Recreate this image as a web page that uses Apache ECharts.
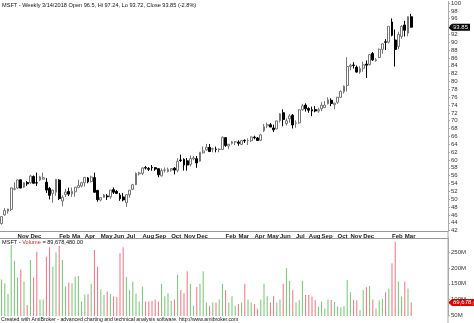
<!DOCTYPE html>
<html><head><meta charset="utf-8">
<script src="https://cdn.jsdelivr.net/npm/echarts@6/dist/echarts.min.js"></script>
<style>html,body{margin:0;padding:0;background:#fff}#c{width:474px;height:323px}</style>
</head><body><div id="c"></div><script>
// Weekly bars (Monday of each week)
const weeks = ['2015-09-28','2015-10-05','2015-10-12','2015-10-19','2015-10-26','2015-11-02','2015-11-09','2015-11-16','2015-11-23','2015-11-30','2015-12-07','2015-12-14','2015-12-21','2015-12-28',
'2016-01-04','2016-01-11','2016-01-18','2016-01-25','2016-02-01','2016-02-08','2016-02-15','2016-02-22','2016-02-29','2016-03-07','2016-03-14','2016-03-21','2016-03-28','2016-04-04','2016-04-11','2016-04-18','2016-04-25','2016-05-02','2016-05-09','2016-05-16','2016-05-23','2016-05-30','2016-06-06','2016-06-13','2016-06-20','2016-06-27','2016-07-04','2016-07-11','2016-07-18','2016-07-25','2016-08-01','2016-08-08','2016-08-15','2016-08-22','2016-08-29','2016-09-05','2016-09-12','2016-09-19','2016-09-26','2016-10-03','2016-10-10','2016-10-17','2016-10-24','2016-10-31','2016-11-07','2016-11-14','2016-11-21','2016-11-28','2016-12-05','2016-12-12','2016-12-19','2016-12-26',
'2017-01-02','2017-01-09','2017-01-16','2017-01-23','2017-01-30','2017-02-06','2017-02-13','2017-02-20','2017-02-27','2017-03-06','2017-03-13','2017-03-20','2017-03-27','2017-04-03','2017-04-10','2017-04-17','2017-04-24','2017-05-01','2017-05-08','2017-05-15','2017-05-22','2017-05-29','2017-06-05','2017-06-12','2017-06-19','2017-06-26','2017-07-03','2017-07-10','2017-07-17','2017-07-24','2017-07-31','2017-08-07','2017-08-14','2017-08-21','2017-08-28','2017-09-04','2017-09-11','2017-09-18','2017-09-25','2017-10-02','2017-10-09','2017-10-16','2017-10-23','2017-10-30','2017-11-06','2017-11-13','2017-11-20','2017-11-27','2017-12-04','2017-12-11','2017-12-18','2017-12-25',
'2018-01-01','2018-01-08','2018-01-15','2018-01-22','2018-01-29','2018-02-05','2018-02-12','2018-02-19','2018-02-26','2018-03-05','2018-03-12'];

const opens = [43.81,46.00,46.96,47.42,52.55,52.85,54.94,53.08,54.25,54.19,55.79,54.19,54.88,55.11,
54.32,52.76,51.48,51.79,54.88,49.55,51.17,51.97,51.35,51.89,53.00,53.36,54.19,55.43,54.49,55.49,52.26,49.79,50.49,50.80,50.60,52.44,52.00,51.05,50.58,49.10,51.13,52.50,53.71,56.47,56.60,58.06,57.84,58.10,58.02,57.78,55.95,57.42,57.08,57.41,57.91,57.36,60.00,60.16,59.78,58.85,60.30,60.34,59.70,61.82,62.56,63.21,
62.79,62.76,62.68,62.70,65.69,63.55,64.24,64.61,64.54,63.97,65.01,64.92,64.89,65.81,65.61,65.04,67.48,68.68,68.97,68.14,67.89,70.00,72.04,69.25,70.50,71.40,69.33,69.46,72.80,73.99,73.10,72.80,72.84,72.47,73.06,73.34,74.33,75.21,74.09,74.71,75.97,77.42,78.99,83.76,84.20,83.66,82.40,83.36,84.42,84.29,87.12,85.31,
86.13,88.20,90.10,90.00,95.14,90.56,88.93,91.48,94.40,92.34,96.50];
const highs = [45.63,47.75,47.55,52.95,54.32,54.98,54.95,54.33,54.60,56.23,56.07,56.79,55.96,56.78,
55.39,53.10,52.44,55.09,55.09,51.00,52.64,52.95,52.97,53.07,54.97,54.44,55.64,55.66,55.98,56.77,52.35,50.47,51.34,51.30,52.32,53.00,52.35,51.59,51.60,51.27,52.37,53.92,56.85,56.99,58.12,58.50,58.18,58.70,58.19,57.80,57.85,58.10,58.06,57.79,58.18,60.45,61.37,60.42,60.52,61.14,60.98,61.02,62.00,63.45,64.10,64.07,
63.15,63.40,62.98,66.00,65.79,64.08,64.86,64.80,64.99,65.14,65.24,65.50,65.98,66.19,65.86,66.70,69.14,69.55,69.38,69.00,70.00,71.95,72.89,70.58,71.68,71.71,70.10,72.94,74.30,74.42,73.44,73.59,73.72,73.35,74.74,75.00,75.97,75.71,74.54,76.03,77.71,78.97,86.20,84.54,84.90,84.10,83.88,85.06,85.37,87.00,87.50,85.98,
88.41,89.78,90.79,94.06,96.07,93.24,92.65,94.35,95.45,96.54,97.24];
const lows = [43.50,45.80,46.34,47.00,52.25,52.63,52.80,52.85,53.40,53.90,54.00,53.39,54.60,54.99,
51.60,49.95,49.10,50.84,49.80,48.19,50.56,50.81,50.58,50.64,52.80,53.01,53.21,54.07,54.26,51.68,49.35,49.45,50.38,49.82,50.10,51.34,51.36,49.60,49.46,48.04,50.39,52.32,53.58,56.04,56.14,57.56,57.17,57.25,57.23,55.61,55.80,56.77,56.80,57.04,56.32,56.87,59.51,57.28,57.28,58.33,59.91,58.02,59.56,61.60,62.31,62.03,
61.95,61.95,61.95,62.57,63.33,62.75,63.95,63.80,63.62,63.81,64.35,63.81,64.57,65.28,64.85,64.80,67.10,68.13,68.38,67.14,67.83,69.55,68.59,68.79,69.50,68.02,68.20,69.21,72.55,72.32,72.04,71.17,72.15,72.00,72.46,73.25,74.17,73.71,72.92,74.28,75.77,76.94,77.45,82.86,83.31,82.24,81.95,82.50,80.90,84.09,85.26,85.02,
85.97,87.08,88.01,89.68,91.50,83.83,88.22,90.86,91.47,91.52,93.72];
const closes = [45.57,47.11,47.51,52.87,52.64,54.92,52.84,54.19,53.93,55.91,54.06,54.13,55.67,55.48,
52.33,50.99,52.29,55.09,50.16,50.50,51.82,51.30,52.03,53.07,53.49,54.21,55.57,54.42,55.65,51.78,49.87,50.39,51.08,50.62,52.32,51.79,51.48,50.13,49.83,51.16,52.30,53.70,56.57,56.68,57.96,57.94,57.62,58.03,57.67,56.21,57.25,57.43,57.60,57.80,57.42,59.66,59.87,58.71,58.71,60.35,60.53,59.25,61.97,62.30,63.24,62.14,
62.84,62.70,62.74,65.78,63.68,64.00,64.62,64.62,64.25,64.93,64.87,64.98,65.86,65.68,64.95,66.40,68.46,69.00,68.38,67.69,69.96,71.76,70.32,70.00,71.21,68.93,69.46,72.78,73.79,73.04,72.68,72.50,72.49,72.82,73.94,73.98,75.31,74.41,74.49,76.00,77.49,78.81,83.81,84.14,84.09,82.40,83.26,84.26,84.16,86.85,85.51,85.54,
88.19,89.60,90.00,94.06,91.78,88.18,92.00,94.06,93.05,96.54,93.85];
// weekly volume, millions of shares
const volumes = [164,152,117,274,224,170,196,157,82,226,171,253,100,100,
237,267,205,250,271,226,141,154,152,173,175,93,116,117,150,258,205,132,114,125,117,109,108,248,267,173,130,157,119,93,141,93,93,95,100,93,150,110,120,95,100,180,130,120,190,150,80,140,150,190,90,80,
90,90,100,150,130,90,110,80,85,90,150,100,90,85,70,100,150,110,90,110,90,100,150,200,160,130,90,98,160,114,114,109,98,77,93,71,100,98,92,77,74,79,162,123,98,97,66,130,139,143,100,71,
97,102,123,135,216,285,157,109,157,135,89.67848];

// Month tick labels (week where the month starts) and their texts
const tickWeeks = ['2015-11-02','2015-11-30','2016-02-01','2016-02-29','2016-03-28','2016-05-02','2016-05-30','2016-06-27','2016-08-01','2016-08-29','2016-10-03','2016-10-31','2016-11-28',
'2017-01-30','2017-02-27','2017-04-03','2017-05-01','2017-05-29','2017-07-03','2017-07-31','2017-08-28','2017-10-02','2017-10-30','2017-11-27','2018-01-29','2018-02-26'];
const tickTexts = ['Nov','Dec','Feb','Ma','Apr','May','Jun','Jul','Aug','Sep','Oct','Nov','Dec',
'Feb','Mar','Apr','May','Jun','Jul','Aug','Sep','Oct','Nov','Dec','Feb','Mar'];
const priceTicks = [42,44,46,48,50,52,54,56,58,60,62,64,66,68,70,72,74,76,78,80,82,84,86,88,90,92,94,96,98,100];
const volumeTicks = [50,100,150,200,250];

const titleText = 'MSFT - Weekly 3/14/2018 Open 96.5, Hi 97.24, Lo 93.72, Close 93.85 (-2.8%)';
const footerText = 'Created with AmiBroker - advanced charting and technical analysis software. http://www.amibroker.com';

const FONT = '"Liberation Sans", Arial, sans-serif';
const GREEN = '#74c474', RED = '#ef7083';
const last = closes.length - 1;

const chart = echarts.init(document.getElementById('c'), null, {renderer: 'canvas'});
const tickMap = {};
tickWeeks.forEach((w, i) => tickMap[w] = tickTexts[i]);

const candleData = weeks.map((w, i) => [opens[i], closes[i], lows[i], highs[i]]);
const volData = volumes.map((v, i) => ({value: v, itemStyle: {color: closes[i] >= opens[i] ? GREEN : RED}}));

chart.setOption({
  animation: false,
  backgroundColor: '#fff',
  grid: [
    {left: 0, right: 26, top: 0, height: 231},
    {left: 0, right: 26, top: 238, height: 78}
  ],
  xAxis: [
    {type: 'category', gridIndex: 0, data: weeks, max: 139, boundaryGap: true,
     axisLine: {show: true, lineStyle: {color: '#999', width: 1}},
     axisTick: {show: false}, splitLine: {show: false},
     axisLabel: {show: true, fontSize: 6, fontWeight: 'bold', color: '#222', fontFamily: FONT, margin: 2,
       align: 'left', interval: (idx, val) => tickMap[val] !== undefined,
       formatter: (val) => tickMap[val] || ''}},
    {type: 'category', gridIndex: 1, data: weeks, max: 139, boundaryGap: true, position: 'top',
     axisLine: {show: true, lineStyle: {color: '#999', width: 1}},
     axisTick: {show: false}, axisLabel: {show: false}, splitLine: {show: false}}
  ],
  yAxis: [
    {type: 'value', gridIndex: 0, position: 'right', min: 41.9, max: 100.4, scale: true,
     axisLine: {show: true, lineStyle: {color: '#aaa'}},
     axisTick: {show: true, length: 2, customValues: priceTicks, lineStyle: {color: '#aaa'}},
     splitLine: {show: false},
     axisLabel: {customValues: priceTicks, fontSize: 6, color: '#333', fontFamily: FONT, margin: 3}},
    {type: 'value', gridIndex: 1, position: 'right', min: 46.8, max: 296.8,
     axisLine: {show: true, lineStyle: {color: '#aaa'}},
     axisTick: {show: true, length: 2, customValues: volumeTicks, lineStyle: {color: '#aaa'}},
     splitLine: {show: false},
     axisLabel: {customValues: volumeTicks, fontSize: 6, color: '#333', fontFamily: FONT, margin: 3,
       formatter: v => v + 'M'}}
  ],
  series: [
    {type: 'candlestick', xAxisIndex: 0, yAxisIndex: 0, data: candleData, barWidth: 2.2,
     itemStyle: {color: '#fff', color0: '#000', borderColor: '#777', borderColor0: '#000', borderWidth: 1}},
    {type: 'bar', xAxisIndex: 1, yAxisIndex: 1, data: volData, barWidth: 1, clip: true}
  ]
});

const yClose = chart.convertToPixel({yAxisIndex: 0}, closes[last]);
const yVol = chart.convertToPixel({yAxisIndex: 1}, volumes[last]);
const axisX = chart.convertToPixel({xAxisIndex: 0}, 139) + 448 / 280;
function tag(y, w, color, text) {
  return {type: 'group', z: 100, children: [
    {type: 'polygon', shape: {points: [[axisX, y], [axisX + 4, y - 3.5], [axisX + w, y - 3.5], [axisX + w, y + 3.5], [axisX + 4, y + 3.5]]},
     style: {fill: color}},
    {type: 'text', x: axisX + 5, y: y, style: {text: text, fill: '#fff', font: '6px ' + FONT, verticalAlign: 'middle', textAlign: 'left'}}
  ]};
}
const volText = Math.round(volumes[last] * 1e6).toLocaleString('en-US');
chart.setOption({
  graphic: [
    {type: 'text', x: 2, y: 2, z: 100, style: {text: titleText, fill: '#111', font: '5.6px ' + FONT}},
    {type: 'text', x: 2, y: 239, z: 100, style: {
      text: '{a|MSFT - }{b|Volume}{a| = ' + volText + '.00}',
      rich: {a: {fill: '#111', fontSize: 5.6, fontFamily: FONT}, b: {fill: '#e02020', fontSize: 5.6, fontFamily: FONT}}}},
    {type: 'line', z: 90, shape: {x1: axisX, y1: 231, x2: axisX, y2: 323}, style: {stroke: '#aaa', lineWidth: 1}},
    {type: 'text', x: 1, y: 317, z: 100, style: {text: footerText, fill: '#111', font: '5.2px ' + FONT}},
    tag(yClose, 22, '#000', closes[last].toFixed(2)),
    tag(yVol, 30, '#e00000', volText)
  ]
});
</script></body></html>
